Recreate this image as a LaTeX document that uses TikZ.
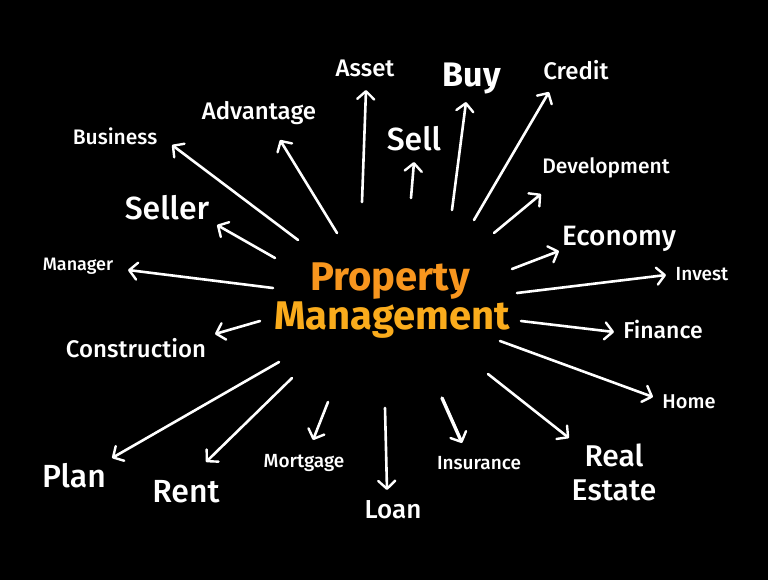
\documentclass[tikz,border=0pt]{standalone}
\usepackage{fontspec}
\setmainfont{Fira Sans Medium}[BoldFont={Fira Sans Bold}]
\usetikzlibrary{arrows.meta}
\definecolor{bg}{RGB}{0,0,0}
\definecolor{orA}{RGB}{248,150,30}
\definecolor{orB}{RGB}{250,172,28}
\tikzset{
  lbl/.style={text=white, inner sep=0pt, font=\fontsize{#1}{#1}\selectfont},
  ttl/.style={inner sep=0pt, font=\fontsize{40}{40}\selectfont\bfseries},
  arr/.style={draw=white, line width=2.6pt, line cap=round,
    -{Straight Barb[length=8pt,width=17pt,line width=2.4pt,round]}},
}
\begin{document}
\begin{tikzpicture}[x=1pt,y=-1pt]
\fill[bg] (0,0) rectangle (768,580);
\useasboundingbox (0,0) rectangle (768,580);

% centre title
\node[ttl, text=orA] (prop) at (390,281) {Property};
\node[ttl, text=orB] (mgmt) at (392,320) {Management};

% labels
\node[lbl=24] (asset) at (365,68) {Asset};
\node[lbl=34] (buy) at (472,78) {\bfseries Buy};
\node[lbl=24] (credit) at (576,70) {Credit};
\node[lbl=24] (adv) at (259,113) {Advantage};
\node[lbl=21] (bus) at (115,136) {Business};
\node[lbl=32] (sell) at (414,139) {Sell};
\node[lbl=21] (dev) at (606,168) {Development};
\node[lbl=32] (seller) at (167,208) {Seller};
\node[lbl=28] (eco) at (619,239) {Economy};
\node[lbl=18] (mgr) at (78,266) {Manager};
\node[lbl=19] (inv) at (702,274) {Invest};
\node[lbl=24] (cons) at (136,348) {Construction};
\node[lbl=23] (fin) at (663,330) {Finance};
\node[lbl=20] (home) at (689,402) {Home};
\node[lbl=32] (plan) at (74,476) {Plan};
\node[lbl=32] (rent) at (186,492) {Rent};
\node[lbl=19] (mort) at (304,463) {Mortgage};
\node[lbl=26] (loan) at (393,510) {Loan};
\node[lbl=19] (ins) at (479,463) {Insurance};
\node[text=white, inner sep=0pt, align=center, font=\fontsize{30}{34}\selectfont] (re) at (614,472) {Real\\Estate};

% arrow end points
\coordinate (sAsset) at (362,202);  \coordinate (tAsset) at (366,90);
\coordinate (sAdv) at (337,233);    \coordinate (tAdv) at (280,140);
\coordinate (sBus) at (298,240);    \coordinate (tBus) at (172,145);
\coordinate (sSeller) at (275,258); \coordinate (tSeller) at (217,225);
\coordinate (sMgr) at (273,288);    \coordinate (tMgr) at (128,270);
\coordinate (sSell) at (411,198);   \coordinate (tSell) at (414,162);
\coordinate (sBuy) at (452,210);    \coordinate (tBuy) at (466,102);
\coordinate (sCredit) at (474,220); \coordinate (tCredit) at (549,92);
\coordinate (sDev) at (494,233);    \coordinate (tDev) at (541,194);
\coordinate (sEco) at (512,269);    \coordinate (tEco) at (559,251);
\coordinate (sInv) at (517,293);    \coordinate (tInv) at (666,275);
\coordinate (sCons) at (260,321);   \coordinate (tCons) at (215,334);
\coordinate (sPlan) at (279,362);   \coordinate (tPlan) at (112,458);
\coordinate (sRent) at (292,378);   \coordinate (tRent) at (206,462);
\coordinate (sMort) at (328,402);   \coordinate (tMort) at (313,440);
\coordinate (sLoan) at (385,408);   \coordinate (tLoan) at (387,490);
\coordinate (sIns) at (442,398);    \coordinate (tIns) at (462,443);
\coordinate (sRE) at (488,374);     \coordinate (tRE) at (569,438);
\coordinate (sHome) at (500,341);   \coordinate (tHome) at (653,397);
\coordinate (sFin) at (521,321);    \coordinate (tFin) at (614,332);

\foreach \n in {Asset,Adv,Bus,Seller,Mgr,Sell,Buy,Credit,Dev,Eco,Inv,Cons,Plan,Rent,Mort,Loan,RE,Home,Fin}
  \draw[arr] (s\n) -- (t\n);
\draw[arr, line width=3.4pt] (sIns) -- (tIns);
\end{tikzpicture}
\end{document}
